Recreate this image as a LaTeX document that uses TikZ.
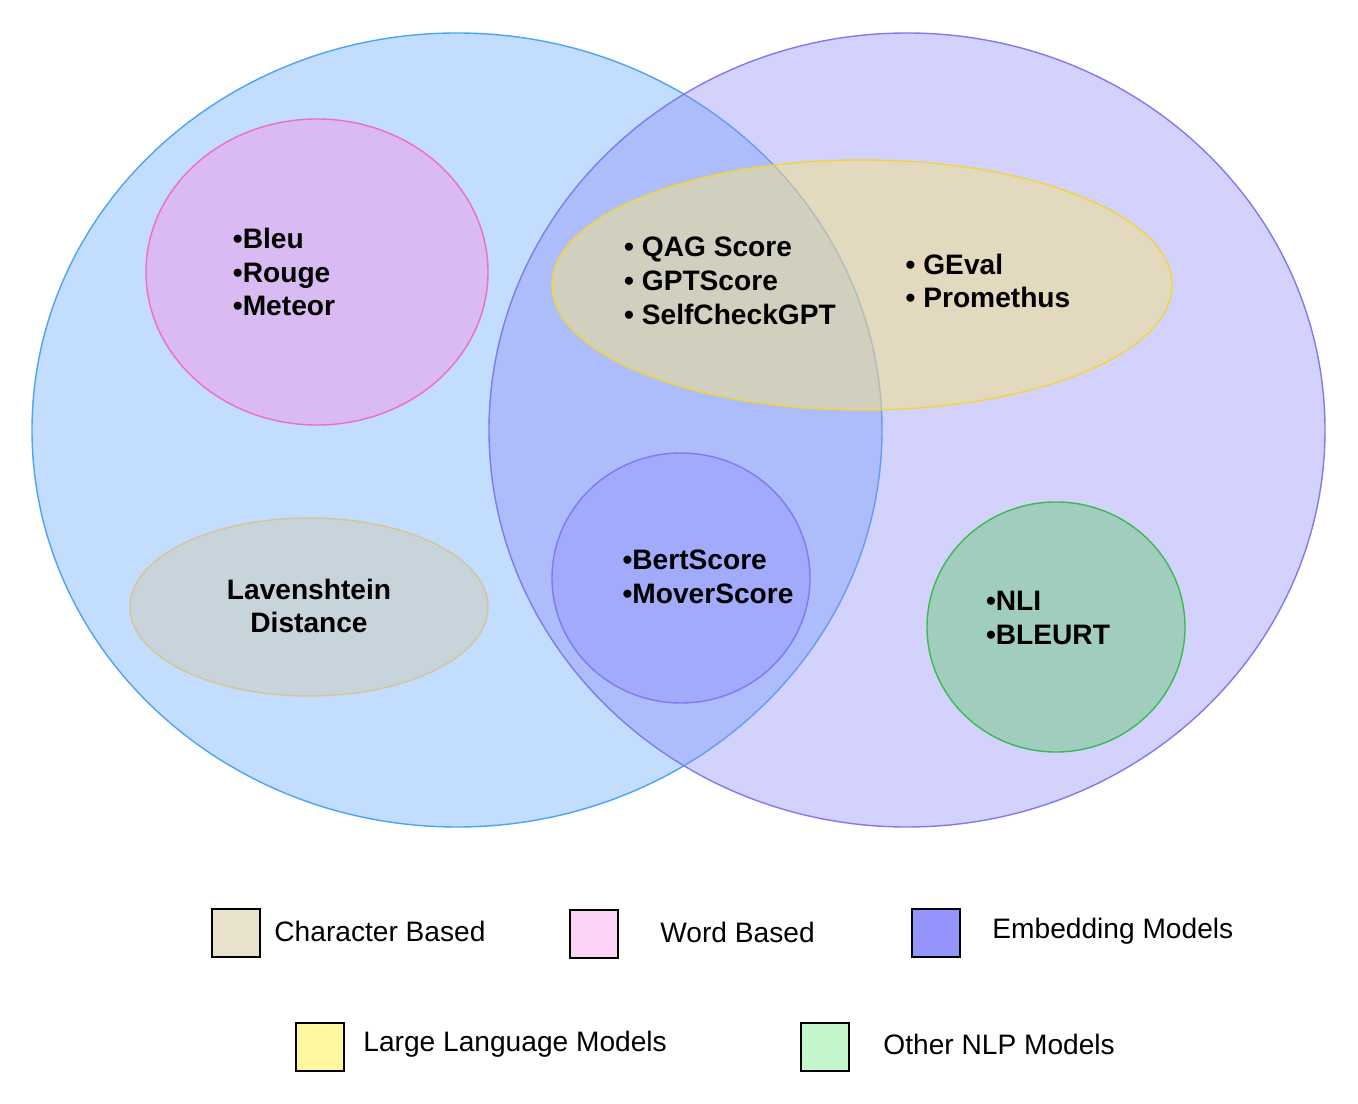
\documentclass[tikz,border=0pt]{standalone}
\usepackage{fontspec}
\setmainfont{Liberation Sans}
\usetikzlibrary{positioning}
\definecolor{bluefill}{RGB}{194,221,253}
\definecolor{blueline}{RGB}{77,163,245}
\definecolor{violet}{RGB}{142,142,250}
\definecolor{violetline}{RGB}{130,120,240}
\definecolor{pinkfill}{RGB}{218,186,242}
\definecolor{pinkline}{RGB}{240,107,208}
\definecolor{tanfill}{RGB}{200,212,220}
\definecolor{tanline}{RGB}{215,195,150}
\definecolor{goldfill}{RGB}{245,225,130}
\definecolor{goldline}{RGB}{242,212,63}
\definecolor{embfill}{RGB}{150,150,252}
\definecolor{greenfill}{RGB}{160,205,190}
\definecolor{greenline}{RGB}{60,185,80}
\definecolor{keychar}{RGB}{232,226,204}
\definecolor{keyword}{RGB}{253,212,245}
\definecolor{keyemb}{RGB}{148,148,252}
\definecolor{keyllm}{RGB}{255,246,160}
\definecolor{keynlp}{RGB}{197,245,205}
\tikzset{
	lbl/.style={font=\fontsize{8}{9.6}\selectfont\bfseries, align=left},
	key/.style={draw=black, minimum size=0.48cm, inner sep=0pt},
	keytext/.style={font=\fontsize{8}{9.6}\selectfont, anchor=west}
}
\begin{document}
\begin{tikzpicture}[x=0.01cm, y=-0.01cm]
	\useasboundingbox (0,0) rectangle (1358,1104);
	
	\draw[blueline, fill=bluefill] (457,430) ellipse [x radius=425, y radius=397];
	\fill[violet, fill opacity=0.4] (907,430) ellipse [x radius=418, y radius=397];
	\draw[violetline] (907,430) ellipse [x radius=418, y radius=397];
	
	\draw[pinkline, fill=pinkfill] (317,272) ellipse [x radius=171, y radius=153];
	\draw[tanline, fill=tanfill] (309,607) ellipse [x radius=179, y radius=89];
	\fill[goldfill, fill opacity=0.5] (862,285) ellipse [x radius=310, y radius=125];
	\draw[goldline] (862,285) ellipse [x radius=310, y radius=125];
	\fill[embfill, fill opacity=0.45] (681,578) ellipse [x radius=129, y radius=125];
	\draw[violetline] (681,578) ellipse [x radius=129, y radius=125];
	\draw[greenline, fill=greenfill] (1056,627) ellipse [x radius=129, y radius=125];
	
	\node[lbl] (word) at (284,272) {•Bleu\\•Rouge\\•Meteor};
	\node[lbl, align=center] (char) at (309,606) {Lavenshtein\\Distance};
	\node[lbl] (shared) at (730,281) {• QAG Score\\• GPTScore\\• SelfCheckGPT};
	\node[lbl] (llm) at (988,281) {• GEval\\• Promethus};
	\node[lbl] (emb) at (708,577) {•BertScore\\•MoverScore};
	\node[lbl] (nlp) at (1048,618) {•NLI\\•BLEURT};
	
	\node[key, fill=keychar] (k1) at (236,933) {};
	\node[keytext] at (262,931) {Character Based};
	\node[key, fill=keyword] (k2) at (594,934) {};
	\node[keytext] at (648,932) {Word Based};
	\node[key, fill=keyemb] (k3) at (936,933) {};
	\node[keytext] at (980,931) {Embedding Models};
	\node[key, fill=keyllm] (k4) at (320,1047) {};
	\node[keytext] at (351,1044) {Large Language Models};
	\node[key, fill=keynlp] (k5) at (825,1047) {};
	\node[keytext] at (871,1044) {Other NLP Models};
\end{tikzpicture}
\end{document}
